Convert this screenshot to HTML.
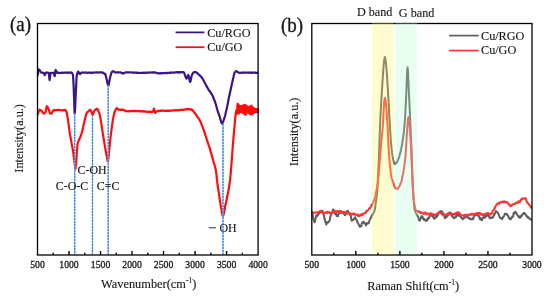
<!DOCTYPE html>
<html><head><meta charset="utf-8"><style>
html,body{margin:0;padding:0;background:#fff;}
svg{display:block;filter:blur(0.25px);}
text{font-family:"Liberation Serif",serif;fill:#161616;stroke:#161616;stroke-width:0.12px;}
.tk text{stroke-width:0.28px;}
.big text{stroke-width:0.3px;}
</style></head><body>
<svg width="550" height="299" viewBox="0 0 550 299">
<rect width="550" height="299" fill="#fff"/>
<g class="big"><text transform="translate(10.00,31.40) scale(1,1.065)" font-size="19" text-anchor="start">(a)</text></g>
<path d="M37.5,114.1 L37.9,114.2 L38.0,113.6 L38.5,111.7 L39.0,110.7 L39.5,110.2 L39.6,109.7 L40.0,110.1 L40.5,110.2 L41.0,110.4 L41.5,110.9 L41.6,110.7 L42.0,111.3 L42.5,112.2 L43.0,112.8 L43.5,113.3 L44.0,113.4 L44.5,113.3 L45.0,112.5 L45.5,112.1 L45.6,111.7 L46.0,110.0 L46.5,107.2 L46.9,106.2 L47.0,106.4 L47.5,106.7 L48.0,108.1 L48.5,108.8 L49.0,110.1 L49.5,111.9 L50.0,113.1 L50.5,113.5 L51.0,113.6 L51.3,113.7 L51.5,113.6 L52.0,112.9 L52.5,111.7 L53.0,110.6 L53.3,110.3 L53.5,110.5 L54.0,110.2 L54.5,110.4 L55.0,110.2 L55.5,110.0 L56.0,110.1 L56.1,110.0 L56.5,110.1 L57.0,110.2 L57.5,109.9 L58.0,109.8 L58.5,110.2 L59.0,110.1 L59.5,110.1 L60.0,110.2 L60.1,110.1 L60.5,110.2 L61.0,110.1 L61.5,110.4 L62.0,110.3 L62.5,110.3 L63.0,110.5 L63.5,110.4 L64.0,109.8 L64.5,109.8 L64.9,109.9 L65.0,110.1 L65.5,110.2 L66.0,111.0 L66.5,111.9 L66.7,113.0 L67.0,113.8 L67.5,116.9 L68.0,120.4 L68.1,121.1 L68.5,123.9 L69.0,127.4 L69.5,131.2 L69.7,132.4 L70.0,134.4 L70.5,137.0 L71.0,139.7 L71.5,142.7 L72.0,145.6 L72.5,148.1 L73.0,151.0 L73.1,151.7 L73.5,154.4 L74.0,158.5 L74.5,162.1 L75.0,166.9 L75.4,168.8 L75.5,168.5 L76.0,164.2 L76.5,157.6 L77.0,150.5 L77.5,144.4 L77.6,144.0 L78.0,142.2 L78.5,141.0 L79.0,139.8 L79.5,138.8 L79.9,138.1 L80.0,137.8 L80.5,136.7 L81.0,135.0 L81.5,133.6 L82.0,131.8 L82.2,131.0 L82.5,129.9 L83.0,128.0 L83.5,125.4 L84.0,123.3 L84.5,121.2 L85.0,118.9 L85.5,117.0 L86.0,114.9 L86.5,113.6 L86.7,113.1 L87.0,112.8 L87.5,111.9 L88.0,111.7 L88.5,111.1 L89.0,110.8 L89.5,110.4 L90.0,109.9 L90.3,109.8 L90.5,110.0 L91.0,110.9 L91.5,111.9 L92.0,113.6 L92.5,114.5 L92.7,114.4 L93.0,114.3 L93.5,112.8 L94.0,111.7 L94.5,110.5 L95.0,110.0 L95.5,109.7 L96.0,109.2 L96.5,109.0 L96.9,108.7 L97.0,108.8 L97.5,109.1 L98.0,110.0 L98.5,111.3 L99.0,112.4 L99.2,113.0 L99.5,113.7 L100.0,116.0 L100.5,118.7 L100.9,121.1 L101.0,121.6 L101.5,124.7 L102.0,128.1 L102.5,131.4 L102.7,132.7 L103.0,134.8 L103.5,137.6 L104.0,140.8 L104.5,144.1 L104.8,145.6 L105.0,146.9 L105.5,149.6 L106.0,152.8 L106.5,154.8 L106.7,155.9 L107.0,157.6 L107.5,160.6 L107.9,161.4 L108.0,161.1 L108.5,157.8 L109.0,152.3 L109.5,146.8 L110.0,142.2 L110.5,137.6 L111.0,133.4 L111.4,130.4 L111.5,129.7 L112.0,125.9 L112.5,122.3 L113.0,118.8 L113.3,117.5 L113.5,116.4 L114.0,114.2 L114.5,112.4 L114.9,111.1 L115.0,110.8 L115.5,110.0 L116.0,109.0 L116.5,108.5 L117.0,108.2 L117.5,108.9 L118.0,109.2 L118.5,109.6 L119.0,109.5 L119.5,109.7 L119.8,109.7 L120.0,109.9 L120.5,109.6 L121.0,109.8 L121.5,109.7 L122.0,109.8 L122.5,109.6 L123.0,109.9 L123.1,109.7 L123.5,109.8 L124.0,110.1 L124.5,110.5 L125.0,110.3 L125.5,111.0 L126.0,111.1 L126.4,111.1 L126.5,111.3 L127.0,111.1 L127.5,111.3 L128.0,111.0 L128.5,111.0 L129.0,111.3 L129.5,111.4 L130.0,111.2 L130.5,111.2 L131.0,111.0 L131.5,110.9 L132.0,111.1 L132.5,111.3 L133.0,110.8 L133.5,111.0 L134.0,110.8 L134.5,111.1 L135.0,111.2 L135.5,110.9 L136.0,111.1 L136.5,111.3 L137.0,111.1 L137.5,111.0 L138.0,111.0 L138.5,110.9 L139.0,111.3 L139.5,111.1 L140.0,111.4 L140.5,111.4 L141.0,111.2 L141.5,111.3 L142.0,111.5 L142.5,111.4 L142.7,111.4 L143.0,111.2 L143.5,111.6 L144.0,111.3 L144.5,111.2 L145.0,111.5 L145.5,111.7 L146.0,111.9 L146.5,111.6 L147.0,111.5 L147.5,112.1 L148.0,111.8 L148.5,111.8 L149.0,111.7 L149.5,111.7 L150.0,112.1 L150.5,111.9 L150.9,111.8 L151.0,111.8 L151.5,112.1 L152.0,111.7 L152.5,111.8 L153.0,111.6 L153.2,111.5 L153.5,110.1 L153.9,108.6 L154.0,108.8 L154.5,110.3 L155.0,112.3 L155.3,112.8 L155.5,112.9 L156.0,112.1 L156.5,111.5 L157.0,111.3 L157.5,110.9 L158.0,111.1 L158.5,110.9 L159.0,110.8 L159.1,110.8 L159.5,110.9 L160.0,110.8 L160.5,110.7 L161.0,111.0 L161.5,110.7 L162.0,110.7 L162.5,110.6 L163.0,110.8 L163.5,110.6 L164.0,110.7 L164.5,110.9 L165.0,110.8 L165.5,111.0 L166.0,110.8 L166.5,110.7 L167.0,110.8 L167.3,110.7 L167.5,110.9 L168.0,110.8 L168.5,110.7 L169.0,110.9 L169.5,110.8 L170.0,110.6 L170.5,110.5 L171.0,110.7 L171.5,110.6 L172.0,110.6 L172.5,110.5 L173.0,110.4 L173.5,110.4 L174.0,110.4 L174.5,110.3 L175.0,110.3 L175.5,110.2 L176.0,110.3 L176.5,110.3 L177.0,110.1 L177.5,110.3 L178.0,110.3 L178.5,110.3 L179.0,110.1 L179.5,110.1 L180.0,109.9 L180.5,110.1 L181.0,109.7 L181.5,109.9 L182.0,109.9 L182.5,110.0 L183.0,109.9 L183.5,109.7 L183.6,109.6 L184.0,109.6 L184.5,109.7 L185.0,109.6 L185.5,109.4 L186.0,109.2 L186.5,109.2 L187.0,109.3 L187.5,108.9 L187.7,109.1 L188.0,109.3 L188.5,109.2 L189.0,109.1 L189.5,109.4 L190.0,109.2 L190.5,109.4 L191.0,109.8 L191.5,110.0 L191.8,109.5 L192.0,110.0 L192.5,110.5 L193.0,110.6 L193.5,111.4 L194.0,112.2 L194.5,112.6 L195.0,113.4 L195.1,113.5 L195.5,113.7 L196.0,114.7 L196.5,115.2 L197.0,116.1 L197.5,116.9 L198.0,117.5 L198.5,118.1 L199.0,119.0 L199.2,119.3 L199.5,120.0 L200.0,120.6 L200.5,121.7 L201.0,122.7 L201.5,124.3 L202.0,125.5 L202.5,126.7 L203.0,128.0 L203.2,128.5 L203.5,129.3 L204.0,130.7 L204.5,132.2 L205.0,134.0 L205.5,135.3 L206.0,136.7 L206.5,138.3 L207.0,140.1 L207.3,141.0 L207.5,141.6 L208.0,143.2 L208.5,144.9 L209.0,146.0 L209.5,147.7 L210.0,149.2 L210.5,151.2 L211.0,152.7 L211.5,154.4 L212.0,156.2 L212.5,158.2 L213.0,159.8 L213.4,161.2 L213.5,161.8 L214.0,163.1 L214.5,164.7 L215.0,166.9 L215.5,168.5 L215.8,169.9 L216.0,171.1 L216.5,175.1 L217.0,179.8 L217.5,184.0 L218.0,187.6 L218.5,191.0 L219.0,194.2 L219.5,197.7 L219.8,199.8 L220.0,201.1 L220.5,204.1 L221.0,207.4 L221.5,209.9 L222.0,212.8 L222.5,215.1 L222.9,216.1 L223.0,216.1 L223.5,214.7 L224.0,212.4 L224.5,209.8 L224.8,208.2 L225.0,207.1 L225.5,204.8 L226.0,202.6 L226.5,200.3 L227.0,198.0 L227.4,196.1 L227.5,195.5 L228.0,192.9 L228.5,190.2 L229.0,187.3 L229.5,184.0 L230.0,180.7 L230.5,175.8 L231.0,169.8 L231.4,164.9 L231.5,163.7 L232.0,156.8 L232.5,149.9 L232.8,145.9 L233.0,143.4 L233.5,137.5 L234.0,131.9 L234.5,126.5 L234.7,124.4 L235.0,121.0 L235.5,115.4 L236.0,112.0 L236.5,110.2 L237.0,113.8 L237.5,103.9 L238.0,113.1 L238.5,104.5 L239.0,113.5 L239.5,105.7 L240.0,112.2 L240.5,106.1 L241.0,111.9 L241.5,106.7 L242.0,112.5 L242.5,105.6 L243.0,112.8 L243.5,105.5 L244.0,113.3 L244.5,104.8 L245.0,114.7 L245.5,105.2 L246.0,114.5 L246.5,106.1 L247.0,112.6 L247.5,106.6 L248.0,112.1 L248.5,107.4 L249.0,113.2 L249.5,106.6 L250.0,114.1 L250.5,106.5 L251.0,114.2 L251.5,105.5 L252.0,114.3 L252.5,107.0 L253.0,113.4 L253.5,108.0 L254.0,112.8 L254.5,108.6 L255.0,112.3 L255.5,109.2 L256.0,111.8 L256.5,109.1 L257.0,112.4 L257.5,109.3 L258.0,112.8" fill="none" stroke="#ff0d0d" stroke-width="2.2" stroke-linejoin="round"/>
<path d="M37.5,74.6 L37.9,74.6 L38.0,72.9 L38.3,69.4 L38.5,69.4 L39.0,69.6 L39.5,69.9 L39.6,70.0 L40.0,70.6 L40.5,71.8 L40.8,72.2 L41.0,72.3 L41.5,72.5 L42.0,72.6 L42.5,72.7 L43.0,72.8 L43.5,72.9 L44.0,73.2 L44.5,74.6 L44.8,75.2 L45.0,74.9 L45.5,73.2 L45.8,72.6 L46.0,72.6 L46.5,72.6 L47.0,72.6 L47.5,72.7 L48.0,72.7 L48.5,72.8 L48.7,72.8 L49.0,74.7 L49.5,79.9 L49.6,80.2 L50.0,77.2 L50.5,73.0 L51.0,72.9 L51.5,72.9 L52.0,72.8 L52.5,72.8 L53.0,72.8 L53.5,72.8 L53.6,72.8 L54.0,73.8 L54.5,75.8 L54.7,76.1 L55.0,74.5 L55.5,70.2 L55.6,70.0 L56.0,70.5 L56.5,71.6 L57.0,72.4 L57.5,72.9 L58.0,72.9 L58.5,72.9 L59.0,72.9 L59.5,72.9 L60.0,72.9 L60.5,72.9 L61.0,72.9 L61.5,73.0 L62.0,72.8 L62.5,72.6 L63.0,72.8 L63.5,73.0 L64.0,72.8 L64.5,72.7 L65.0,72.6 L65.5,72.6 L66.0,72.7 L66.5,72.6 L67.0,72.8 L67.5,72.6 L68.0,72.6 L68.5,72.8 L69.0,72.7 L69.5,72.5 L70.0,72.6 L70.5,72.6 L71.0,72.5 L71.2,72.3 L71.5,72.6 L72.0,73.1 L72.5,73.9 L73.0,75.0 L73.5,83.4 L73.8,90.6 L74.0,96.2 L74.5,111.4 L74.7,113.6 L75.0,110.9 L75.5,99.9 L75.9,90.8 L76.0,88.8 L76.5,78.5 L76.8,75.0 L77.0,74.2 L77.5,72.8 L78.0,71.8 L78.2,71.6 L78.5,71.8 L79.0,72.7 L79.5,73.9 L79.9,74.2 L80.0,74.0 L80.5,73.8 L81.0,73.0 L81.5,72.7 L81.7,72.5 L82.0,72.7 L82.5,72.5 L83.0,72.5 L83.5,72.6 L84.0,72.7 L84.5,72.6 L85.0,72.4 L85.5,72.6 L86.0,72.6 L86.5,72.6 L87.0,72.6 L87.5,72.9 L88.0,72.6 L88.5,72.6 L89.0,72.8 L89.5,72.7 L90.0,72.7 L90.5,72.8 L91.0,72.8 L91.5,72.7 L92.0,72.8 L92.5,72.7 L93.0,72.6 L93.5,72.6 L94.0,72.6 L94.5,72.6 L95.0,72.5 L95.5,72.4 L96.0,72.6 L96.5,72.4 L97.0,72.3 L97.5,72.6 L98.0,72.4 L98.5,72.6 L99.0,72.5 L99.5,72.4 L100.0,72.4 L100.5,72.4 L100.8,72.5 L101.0,72.4 L101.5,72.5 L102.0,72.4 L102.5,72.7 L103.0,72.7 L103.5,73.1 L104.0,73.5 L104.5,73.8 L105.0,74.3 L105.2,74.0 L105.5,74.8 L106.0,76.6 L106.5,78.8 L106.9,80.2 L107.0,80.7 L107.5,83.3 L108.0,84.9 L108.3,85.6 L108.5,85.4 L109.0,83.2 L109.5,80.5 L109.9,78.4 L110.0,78.0 L110.5,75.9 L111.0,74.1 L111.5,72.7 L111.6,72.6 L112.0,71.8 L112.5,71.4 L113.0,71.3 L113.5,71.4 L114.0,71.4 L114.5,72.0 L115.0,72.2 L115.5,72.5 L115.7,72.5 L116.0,72.6 L116.5,72.5 L117.0,72.3 L117.5,72.3 L118.0,72.5 L118.5,72.4 L119.0,72.5 L119.5,72.4 L119.8,72.3 L120.0,72.5 L120.5,72.4 L121.0,72.5 L121.5,73.2 L122.0,72.9 L122.5,73.4 L123.0,73.5 L123.1,73.4 L123.5,73.2 L124.0,73.3 L124.5,72.8 L125.0,72.6 L125.5,72.5 L126.0,72.5 L126.4,72.4 L126.5,72.5 L127.0,72.3 L127.5,72.4 L128.0,72.3 L128.5,72.4 L129.0,72.5 L129.5,72.4 L130.0,72.5 L130.5,72.4 L131.0,72.4 L131.5,72.5 L132.0,72.5 L132.5,72.6 L133.0,72.6 L133.5,72.8 L134.0,72.6 L134.5,72.6 L135.0,72.5 L135.5,72.7 L136.0,72.8 L136.5,72.6 L137.0,72.8 L137.5,72.9 L138.0,72.8 L138.5,72.8 L139.0,73.0 L139.5,72.9 L140.0,72.9 L140.5,73.0 L141.0,73.0 L141.5,72.9 L142.0,72.8 L142.5,72.9 L142.7,72.9 L143.0,72.7 L143.5,73.0 L144.0,72.9 L144.5,73.0 L145.0,72.7 L145.5,73.0 L146.0,72.7 L146.5,72.8 L147.0,72.6 L147.5,72.7 L148.0,72.7 L148.5,72.6 L149.0,72.7 L149.5,72.6 L150.0,72.7 L150.5,72.5 L151.0,72.4 L151.5,72.5 L152.0,72.5 L152.5,72.6 L153.0,72.5 L153.5,72.2 L154.0,72.4 L154.2,72.6 L154.5,72.4 L155.0,72.4 L155.5,72.6 L156.0,72.6 L156.5,72.9 L157.0,73.0 L157.5,73.3 L158.0,73.3 L158.5,73.3 L159.0,73.5 L159.1,73.5 L159.5,73.3 L160.0,73.3 L160.5,73.1 L161.0,73.5 L161.5,73.3 L162.0,73.0 L162.5,73.0 L163.0,73.2 L163.5,73.3 L164.0,73.1 L164.5,73.2 L165.0,72.9 L165.5,72.9 L166.0,73.1 L166.5,73.0 L167.0,72.9 L167.3,73.1 L167.5,72.8 L168.0,72.8 L168.5,73.0 L169.0,73.0 L169.5,72.8 L170.0,73.0 L170.5,72.7 L171.0,72.7 L171.5,72.6 L172.0,72.4 L172.5,72.6 L173.0,72.7 L173.5,72.5 L174.0,72.5 L174.5,72.7 L175.0,72.3 L175.5,72.3 L176.0,72.3 L176.5,72.2 L177.0,72.5 L177.5,72.4 L178.0,72.2 L178.5,72.2 L179.0,72.6 L179.5,72.2 L180.0,72.2 L180.5,72.3 L181.0,72.3 L181.5,72.2 L182.0,72.1 L182.5,72.1 L183.0,72.2 L183.5,72.2 L183.6,72.2 L184.0,72.6 L184.5,73.9 L185.0,75.4 L185.3,76.1 L185.5,76.6 L186.0,77.8 L186.5,78.6 L186.6,78.6 L187.0,78.0 L187.5,76.5 L188.0,75.2 L188.2,75.0 L188.5,75.4 L189.0,77.4 L189.5,80.0 L190.0,81.7 L190.2,81.9 L190.5,81.4 L191.0,79.0 L191.5,76.3 L191.8,75.3 L192.0,74.9 L192.5,74.0 L193.0,73.1 L193.5,72.5 L194.0,72.2 L194.3,72.1 L194.5,72.1 L195.0,72.1 L195.5,72.1 L196.0,72.2 L196.5,72.5 L197.0,72.9 L197.5,73.4 L198.0,73.8 L198.2,74.0 L198.5,74.2 L199.0,74.7 L199.5,75.1 L200.0,75.6 L200.5,76.1 L201.0,76.7 L201.5,77.3 L201.6,77.4 L202.0,77.9 L202.5,78.7 L203.0,79.5 L203.5,80.4 L204.0,81.3 L204.5,82.2 L205.0,83.1 L205.5,84.0 L206.0,85.0 L206.5,85.9 L207.0,86.9 L207.5,87.8 L208.0,88.7 L208.4,89.4 L208.5,89.6 L209.0,90.3 L209.5,91.0 L210.0,91.7 L210.5,92.4 L211.0,93.1 L211.5,93.9 L211.8,94.4 L212.0,94.8 L212.5,95.8 L213.0,96.8 L213.5,98.0 L214.0,99.2 L214.5,100.5 L215.0,101.8 L215.2,102.4 L215.5,103.3 L216.0,105.0 L216.5,106.8 L217.0,108.6 L217.5,110.3 L218.0,111.8 L218.5,113.3 L219.0,114.8 L219.5,116.2 L219.8,117.1 L220.0,117.7 L220.5,119.6 L221.0,121.5 L221.5,122.9 L222.0,123.5 L222.5,123.1 L223.0,122.1 L223.5,120.7 L224.0,119.2 L224.3,118.3 L224.5,117.7 L225.0,116.0 L225.5,114.0 L226.0,111.8 L226.5,109.6 L226.6,109.2 L227.0,107.4 L227.5,104.9 L228.0,102.3 L228.5,99.8 L228.9,97.8 L229.0,97.3 L229.5,95.0 L230.0,92.6 L230.5,90.3 L231.0,88.1 L231.1,87.6 L231.5,85.8 L232.0,83.5 L232.5,81.3 L233.0,79.1 L233.4,77.4 L233.5,77.0 L234.0,74.5 L234.5,72.8 L235.0,72.1 L235.5,71.6 L236.0,71.3 L236.4,71.2 L236.5,71.2 L237.0,71.4 L237.5,71.8 L238.0,72.2 L238.5,72.6 L239.0,72.8 L239.1,72.8 L239.5,72.8 L240.0,72.8 L240.5,72.8 L241.0,72.8 L241.5,72.7 L242.0,72.5 L242.5,72.6 L243.0,72.7 L243.5,72.8 L244.0,72.6 L244.5,72.5 L245.0,72.6 L245.5,72.6 L246.0,72.7 L246.5,72.6 L247.0,72.5 L247.5,72.6 L248.0,72.5 L248.5,72.7 L249.0,72.8 L249.5,72.5 L250.0,72.7 L250.5,72.5 L251.0,72.8 L251.5,72.8 L252.0,72.6 L252.5,72.8 L253.0,72.6 L253.5,72.6 L254.0,72.6 L254.5,72.7 L255.0,72.7 L255.5,72.8 L256.0,72.7 L256.5,72.9 L257.0,73.0 L257.5,72.8 L258.0,72.7" fill="none" stroke="#3b1486" stroke-width="2.2" stroke-linejoin="round"/>
<g fill="none" stroke-width="1.25"><line x1="74.7" y1="113" x2="74.7" y2="254.5" stroke="#94c0f0"/><line x1="74.7" y1="113" x2="74.7" y2="254.5" stroke="#3383dc" stroke-dasharray="2,1"/><line x1="92.5" y1="115" x2="92.5" y2="254.5" stroke="#94c0f0"/><line x1="92.5" y1="115" x2="92.5" y2="254.5" stroke="#3383dc" stroke-dasharray="2,1"/><line x1="108.2" y1="85" x2="108.2" y2="254.5" stroke="#94c0f0"/><line x1="108.2" y1="85" x2="108.2" y2="254.5" stroke="#3383dc" stroke-dasharray="2,1"/><line x1="223" y1="124" x2="223" y2="254.5" stroke="#94c0f0"/><line x1="223" y1="124" x2="223" y2="254.5" stroke="#3383dc" stroke-dasharray="2,1"/></g>
<rect x="37.5" y="23.5" width="220.60" height="231.50" fill="none" stroke="#000" stroke-width="1.3"/>
<g stroke="#000" stroke-width="1.4"><line x1="53.26" y1="255.0" x2="53.26" y2="252.8"/><line x1="69.01" y1="255.0" x2="69.01" y2="251.0"/><line x1="84.77" y1="255.0" x2="84.77" y2="252.8"/><line x1="100.53" y1="255.0" x2="100.53" y2="251.0"/><line x1="116.29" y1="255.0" x2="116.29" y2="252.8"/><line x1="132.04" y1="255.0" x2="132.04" y2="251.0"/><line x1="147.80" y1="255.0" x2="147.80" y2="252.8"/><line x1="163.56" y1="255.0" x2="163.56" y2="251.0"/><line x1="179.31" y1="255.0" x2="179.31" y2="252.8"/><line x1="195.07" y1="255.0" x2="195.07" y2="251.0"/><line x1="210.83" y1="255.0" x2="210.83" y2="252.8"/><line x1="226.59" y1="255.0" x2="226.59" y2="251.0"/><line x1="242.34" y1="255.0" x2="242.34" y2="252.8"/></g>
<g class="tk">
<text transform="translate(37.50,267.90) scale(1,1.065)" font-size="9.7" text-anchor="middle">500</text><text transform="translate(69.01,267.90) scale(1,1.065)" font-size="9.7" text-anchor="middle">1000</text><text transform="translate(100.53,267.90) scale(1,1.065)" font-size="9.7" text-anchor="middle">1500</text><text transform="translate(132.04,267.90) scale(1,1.065)" font-size="9.7" text-anchor="middle">2000</text><text transform="translate(163.56,267.90) scale(1,1.065)" font-size="9.7" text-anchor="middle">2500</text><text transform="translate(195.07,267.90) scale(1,1.065)" font-size="9.7" text-anchor="middle">3000</text><text transform="translate(226.59,267.90) scale(1,1.065)" font-size="9.7" text-anchor="middle">3500</text><text transform="translate(258.10,267.90) scale(1,1.065)" font-size="9.7" text-anchor="middle">4000</text>
</g>
<line x1="175.6" y1="32.4" x2="204.4" y2="32.4" stroke="#3b1486" stroke-width="1.75"/>
<line x1="175.6" y1="47.2" x2="204.4" y2="47.2" stroke="#ff0d0d" stroke-width="1.75"/>
<text transform="translate(207.20,36.70) scale(1,1.065)" font-size="12.2" text-anchor="start">Cu/RGO</text>
<text transform="translate(207.20,51.00) scale(1,1.065)" font-size="12.2" text-anchor="start">Cu/GO</text>
<text transform="translate(77.60,174.10) scale(1,1.065)" font-size="11.9" text-anchor="start">C-OH</text>
<text transform="translate(55.80,190.40) scale(1,1.065)" font-size="11.9" text-anchor="start">C-O-C</text>
<text transform="translate(96.80,190.40) scale(1,1.065)" font-size="11.9" text-anchor="start">C=C</text>
<rect x="208.8" y="227.1" width="7.2" height="1.25" fill="#555"/><text transform="translate(219.40,231.80) scale(1,1.065)" font-size="11.9" text-anchor="start">OH</text>
<text transform="translate(23.00,138.40) scale(1,1.065) rotate(-90)" font-size="11.5" text-anchor="middle">Intensity(a.u.)</text>
<text transform="translate(101.00,288.20) scale(1,1.065)" font-size="12.4" text-anchor="start">Wavenumber(cm<tspan font-size="7.6" dy="-4.6">-1</tspan><tspan dy="4.6">)</tspan></text>

<g class="big"><text transform="translate(281.00,32.30) scale(1,1.065)" font-size="19" text-anchor="start">(b)</text></g>
<text transform="translate(356.90,16.00) scale(1,1.065)" font-size="12.2" text-anchor="start">D band</text>
<text transform="translate(398.80,16.50) scale(1,1.065)" font-size="12.2" text-anchor="start">G band</text>
<path d="M312.0,211.0 L312.4,213.9 L312.8,215.9 L313.2,217.9 L313.6,220.1 L314.0,220.5 L314.4,221.9 L314.8,222.3 L315.2,220.2 L315.6,218.4 L316.0,216.6 L316.4,215.4 L316.8,216.4 L317.2,215.4 L317.6,215.7 L318.0,214.4 L318.4,214.2 L318.8,213.9 L319.2,213.6 L319.6,212.9 L320.0,212.5 L320.4,210.9 L320.8,211.2 L321.2,211.3 L321.6,211.6 L322.0,210.6 L322.4,212.5 L322.8,211.4 L323.2,212.6 L323.6,214.7 L324.0,215.7 L324.4,218.6 L324.8,218.4 L325.2,221.5 L325.6,222.0 L326.0,223.3 L326.4,224.6 L326.8,222.1 L327.2,222.4 L327.6,222.7 L328.0,222.6 L328.4,222.5 L328.8,221.8 L329.2,221.3 L329.6,220.6 L330.0,218.5 L330.4,216.7 L330.8,215.1 L331.2,214.3 L331.6,213.2 L332.0,212.7 L332.4,212.1 L332.8,209.6 L333.2,210.5 L333.6,209.9 L334.0,210.6 L334.4,213.1 L334.8,212.4 L335.2,213.2 L335.6,214.5 L336.0,214.4 L336.4,214.0 L336.8,216.1 L337.2,215.6 L337.6,215.8 L338.0,216.2 L338.4,214.3 L338.8,214.0 L339.2,212.9 L339.6,212.5 L340.0,212.5 L340.4,211.1 L340.8,212.9 L341.2,212.4 L341.6,212.2 L342.0,212.5 L342.4,212.9 L342.8,212.9 L343.2,212.5 L343.6,213.7 L344.0,214.0 L344.4,214.3 L344.8,215.0 L345.2,215.2 L345.6,214.4 L346.0,213.4 L346.4,212.7 L346.8,211.5 L347.2,210.8 L347.6,211.2 L348.0,211.1 L348.4,212.1 L348.8,212.3 L349.2,213.2 L349.6,213.8 L350.0,213.6 L350.4,215.3 L350.8,215.5 L351.2,218.3 L351.6,220.7 L352.0,220.5 L352.4,220.5 L352.8,219.8 L353.2,219.9 L353.6,219.7 L354.0,219.2 L354.4,218.0 L354.8,217.9 L355.2,217.2 L355.6,218.3 L356.0,219.2 L356.4,219.6 L356.8,220.1 L357.2,221.4 L357.6,222.8 L358.0,222.8 L358.4,223.9 L358.8,224.8 L359.2,225.4 L359.6,226.6 L360.0,226.1 L360.4,226.6 L360.8,226.1 L361.2,226.4 L361.6,224.0 L362.0,223.0 L362.4,222.2 L362.8,222.8 L363.2,221.8 L363.6,221.8 L364.0,222.5 L364.4,223.5 L364.8,223.4 L365.2,223.8 L365.6,223.9 L366.0,225.4 L366.4,223.0 L366.8,223.1 L367.2,223.4 L367.6,223.8 L368.0,223.3 L368.4,222.7 L368.8,223.1 L369.2,221.4 L369.6,220.5 L370.0,219.5 L370.4,218.5 L370.8,217.4 L371.2,217.6 L371.6,216.5 L372.0,215.0 L372.4,214.6 L372.8,214.5 L373.2,213.5 L373.6,212.9 L374.0,212.2 L374.4,211.2 L374.8,209.5 L375.2,207.1 L375.6,204.4 L376.0,201.6 L376.4,198.7 L376.8,195.3 L377.2,191.2 L377.6,185.7 L378.0,178.1 L378.4,169.3 L378.8,160.0 L379.2,149.5 L379.6,137.8 L380.0,126.7 L380.4,117.8 L380.8,109.9 L381.2,102.7 L381.6,96.0 L382.0,89.6 L382.4,83.5 L382.8,77.2 L383.2,71.1 L383.6,65.9 L384.0,62.0 L384.4,59.0 L384.8,57.1 L385.2,57.8 L385.6,60.5 L386.0,63.7 L386.4,68.0 L386.8,73.2 L387.2,79.0 L387.6,85.0 L388.0,91.4 L388.4,98.5 L388.8,105.9 L389.2,113.3 L389.6,120.3 L390.0,127.0 L390.4,133.8 L390.8,140.0 L391.2,145.0 L391.6,149.0 L392.0,152.7 L392.4,155.7 L392.8,158.1 L393.2,159.8 L393.6,161.2 L394.0,162.5 L394.4,163.4 L394.8,163.9 L395.2,164.0 L395.6,163.7 L396.0,163.4 L396.4,162.8 L396.8,162.2 L397.2,161.5 L397.6,160.8 L398.0,160.0 L398.4,159.0 L398.8,157.9 L399.2,156.7 L399.6,155.3 L400.0,153.9 L400.4,152.4 L400.8,150.8 L401.2,149.0 L401.6,146.9 L402.0,144.7 L402.4,142.3 L402.8,139.7 L403.2,136.9 L403.6,133.9 L404.0,130.5 L404.4,126.6 L404.8,122.0 L405.2,115.8 L405.6,107.8 L406.0,99.2 L406.4,90.3 L406.8,79.1 L407.2,69.7 L407.6,67.2 L408.0,72.3 L408.4,81.1 L408.8,90.0 L409.2,98.2 L409.6,106.9 L410.0,116.0 L410.4,125.0 L410.8,133.7 L411.2,142.7 L411.6,152.7 L412.0,165.4 L412.4,177.6 L412.8,186.4 L413.2,193.6 L413.6,199.3 L414.0,204.3 L414.4,208.2 L414.8,210.4 L415.2,211.5 L415.6,212.2 L416.0,213.1 L416.4,213.9 L416.8,214.8 L417.2,215.2 L417.6,216.4 L418.0,216.1 L418.4,217.8 L418.8,219.0 L419.2,220.5 L419.6,219.6 L420.0,220.5 L420.4,219.1 L420.8,217.7 L421.2,217.2 L421.6,216.1 L422.0,217.1 L422.4,216.6 L422.8,218.3 L423.2,218.7 L423.6,218.4 L424.0,219.9 L424.4,219.5 L424.8,219.7 L425.2,220.0 L425.6,220.8 L426.0,220.8 L426.4,219.8 L426.8,219.2 L427.2,220.6 L427.6,219.2 L428.0,219.2 L428.4,217.8 L428.8,217.5 L429.2,218.0 L429.6,215.6 L430.0,215.9 L430.4,215.3 L430.8,213.3 L431.2,215.6 L431.6,214.6 L432.0,215.4 L432.4,216.4 L432.8,216.3 L433.2,215.9 L433.6,217.7 L434.0,218.4 L434.4,218.6 L434.8,217.8 L435.2,218.2 L435.6,217.1 L436.0,217.4 L436.4,216.4 L436.8,215.5 L437.2,216.4 L437.6,214.7 L438.0,215.0 L438.4,213.2 L438.8,212.4 L439.2,211.9 L439.6,211.8 L440.0,211.3 L440.4,211.4 L440.8,211.2 L441.2,211.5 L441.6,211.3 L442.0,211.4 L442.4,212.5 L442.8,212.8 L443.2,213.8 L443.6,214.0 L444.0,215.0 L444.4,215.3 L444.8,217.8 L445.2,218.3 L445.6,217.6 L446.0,217.2 L446.4,216.6 L446.8,216.9 L447.2,215.9 L447.6,215.8 L448.0,214.5 L448.4,214.7 L448.8,213.3 L449.2,213.1 L449.6,212.3 L450.0,214.3 L450.4,212.7 L450.8,213.2 L451.2,214.0 L451.6,215.8 L452.0,215.3 L452.4,216.1 L452.8,217.3 L453.2,217.0 L453.6,217.7 L454.0,218.2 L454.4,218.3 L454.8,217.9 L455.2,217.4 L455.6,216.5 L456.0,217.1 L456.4,214.1 L456.8,215.1 L457.2,213.9 L457.6,214.1 L458.0,215.8 L458.4,215.3 L458.8,214.5 L459.2,215.3 L459.6,215.3 L460.0,216.2 L460.4,216.4 L460.8,217.3 L461.2,217.1 L461.6,217.7 L462.0,218.4 L462.4,218.5 L462.8,219.3 L463.2,218.2 L463.6,218.6 L464.0,217.6 L464.4,217.6 L464.8,216.7 L465.2,216.6 L465.6,217.7 L466.0,215.4 L466.4,216.4 L466.8,215.8 L467.2,216.5 L467.6,216.2 L468.0,217.2 L468.4,218.0 L468.8,218.0 L469.2,218.1 L469.6,219.1 L470.0,218.5 L470.4,218.4 L470.8,219.0 L471.2,219.4 L471.6,219.4 L472.0,219.0 L472.4,219.3 L472.8,218.0 L473.2,219.1 L473.6,217.4 L474.0,215.6 L474.4,215.7 L474.8,214.1 L475.2,215.4 L475.6,214.2 L476.0,213.9 L476.4,214.7 L476.8,214.1 L477.2,215.2 L477.6,214.7 L478.0,215.7 L478.4,216.0 L478.8,215.8 L479.2,217.2 L479.6,218.0 L480.0,219.1 L480.4,218.0 L480.8,219.8 L481.2,219.7 L481.6,219.1 L482.0,220.3 L482.4,218.5 L482.8,218.2 L483.2,217.3 L483.6,217.9 L484.0,217.8 L484.4,216.9 L484.8,216.1 L485.2,217.5 L485.6,215.9 L486.0,216.7 L486.4,215.8 L486.8,215.7 L487.2,215.2 L487.6,214.1 L488.0,215.1 L488.4,215.8 L488.8,216.3 L489.2,216.1 L489.6,218.2 L490.0,217.8 L490.4,218.1 L490.8,217.9 L491.2,217.6 L491.6,217.9 L492.0,218.1 L492.4,217.4 L492.8,217.1 L493.2,217.1 L493.6,215.9 L494.0,213.9 L494.4,214.8 L494.8,213.9 L495.2,212.5 L495.6,211.9 L496.0,211.1 L496.4,211.7 L496.8,212.0 L497.2,211.9 L497.6,212.7 L498.0,213.2 L498.4,214.0 L498.8,214.6 L499.2,215.6 L499.6,217.4 L500.0,217.9 L500.4,217.9 L500.8,217.8 L501.2,218.2 L501.6,218.7 L502.0,219.3 L502.4,218.7 L502.8,217.8 L503.2,216.7 L503.6,216.4 L504.0,216.3 L504.4,215.1 L504.8,213.7 L505.2,213.7 L505.6,214.1 L506.0,214.1 L506.4,214.0 L506.8,213.8 L507.2,215.3 L507.6,215.1 L508.0,215.9 L508.4,216.1 L508.8,218.0 L509.2,218.5 L509.6,218.6 L510.0,219.2 L510.4,218.2 L510.8,219.3 L511.2,217.8 L511.6,218.0 L512.0,217.3 L512.4,216.3 L512.8,216.5 L513.2,216.5 L513.6,213.0 L514.0,213.7 L514.4,213.5 L514.8,212.4 L515.2,212.8 L515.6,211.8 L516.0,212.4 L516.4,213.8 L516.8,214.3 L517.2,214.3 L517.6,215.5 L518.0,216.0 L518.4,216.4 L518.8,217.5 L519.2,217.2 L519.6,216.3 L520.0,217.8 L520.4,216.2 L520.8,216.8 L521.2,215.7 L521.6,215.4 L522.0,215.8 L522.4,214.2 L522.8,214.2 L523.2,213.8 L523.6,213.1 L524.0,213.8 L524.4,212.9 L524.8,213.9 L525.2,213.6 L525.6,214.8 L526.0,215.0 L526.4,216.2 L526.8,216.2 L527.2,216.3 L527.6,217.0 L528.0,217.9 L528.4,217.2 L528.8,217.8 L529.2,218.3 L529.6,218.7 L530.0,218.8 L530.4,218.8 L530.8,219.7 L531.2,219.8 L531.6,219.9" fill="none" stroke="#5e5e5e" stroke-width="2" stroke-linejoin="round"/>
<path d="M312.0,212.9 L312.4,213.3 L312.8,213.1 L313.2,213.1 L313.6,213.1 L314.0,212.7 L314.4,212.7 L314.8,212.4 L315.2,212.5 L315.6,212.3 L316.0,212.8 L316.4,212.2 L316.8,212.2 L317.2,212.6 L317.6,212.3 L318.0,212.1 L318.4,212.0 L318.8,211.5 L319.2,212.5 L319.6,212.1 L320.0,211.6 L320.4,211.4 L320.8,211.9 L321.2,211.6 L321.6,212.3 L322.0,212.6 L322.4,212.6 L322.8,212.9 L323.2,213.6 L323.6,212.8 L324.0,213.1 L324.4,213.2 L324.8,212.8 L325.2,212.6 L325.6,212.6 L326.0,212.3 L326.4,212.7 L326.8,212.1 L327.2,211.7 L327.6,213.1 L328.0,211.9 L328.4,212.5 L328.8,212.5 L329.2,212.4 L329.6,212.1 L330.0,213.3 L330.4,213.4 L330.8,213.3 L331.2,213.1 L331.6,213.7 L332.0,212.5 L332.4,212.9 L332.8,212.7 L333.2,212.0 L333.6,211.5 L334.0,211.4 L334.4,211.3 L334.8,211.3 L335.2,211.6 L335.6,211.1 L336.0,212.0 L336.4,211.4 L336.8,212.0 L337.2,211.8 L337.6,211.1 L338.0,211.5 L338.4,211.3 L338.8,211.9 L339.2,212.1 L339.6,210.9 L340.0,211.8 L340.4,211.6 L340.8,212.4 L341.2,211.0 L341.6,212.1 L342.0,212.0 L342.4,211.9 L342.8,211.9 L343.2,212.7 L343.6,212.0 L344.0,212.4 L344.4,212.1 L344.8,212.9 L345.2,212.0 L345.6,212.1 L346.0,212.8 L346.4,212.7 L346.8,212.9 L347.2,212.9 L347.6,213.6 L348.0,212.9 L348.4,212.8 L348.8,213.0 L349.2,213.4 L349.6,214.1 L350.0,213.3 L350.4,213.8 L350.8,213.8 L351.2,214.1 L351.6,214.1 L352.0,214.0 L352.4,213.6 L352.8,213.7 L353.2,213.8 L353.6,214.4 L354.0,213.5 L354.4,213.6 L354.8,213.8 L355.2,214.6 L355.6,214.4 L356.0,214.8 L356.4,215.0 L356.8,214.7 L357.2,214.9 L357.6,214.4 L358.0,215.9 L358.4,215.4 L358.8,216.1 L359.2,215.2 L359.6,216.1 L360.0,215.8 L360.4,215.1 L360.8,215.3 L361.2,214.4 L361.6,215.1 L362.0,214.1 L362.4,214.3 L362.8,214.9 L363.2,213.7 L363.6,213.7 L364.0,213.2 L364.4,213.5 L364.8,213.2 L365.2,213.0 L365.6,212.0 L366.0,212.7 L366.4,211.0 L366.8,211.1 L367.2,211.0 L367.6,210.3 L368.0,210.1 L368.4,209.6 L368.8,209.2 L369.2,208.2 L369.6,208.7 L370.0,208.0 L370.4,207.3 L370.8,206.8 L371.2,206.1 L371.6,204.9 L372.0,205.1 L372.4,203.8 L372.8,203.3 L373.2,202.7 L373.6,201.1 L374.0,199.9 L374.4,199.2 L374.8,198.0 L375.2,196.4 L375.6,195.2 L376.0,193.0 L376.4,190.6 L376.8,189.3 L377.2,185.9 L377.6,184.0 L378.0,180.7 L378.4,176.4 L378.8,171.8 L379.2,168.2 L379.6,162.8 L380.0,158.0 L380.4,152.3 L380.8,148.0 L381.2,143.1 L381.6,138.7 L382.0,135.2 L382.4,131.0 L382.8,126.8 L383.2,119.7 L383.6,110.9 L384.0,104.4 L384.4,100.6 L384.8,98.1 L385.2,98.4 L385.6,100.6 L386.0,104.5 L386.4,108.4 L386.8,113.7 L387.2,119.6 L387.6,126.8 L388.0,135.4 L388.4,144.2 L388.8,151.9 L389.2,156.4 L389.6,162.0 L390.0,165.7 L390.4,169.3 L390.8,172.9 L391.2,175.2 L391.6,177.5 L392.0,179.1 L392.4,179.9 L392.8,181.5 L393.2,182.6 L393.6,183.4 L394.0,185.3 L394.4,186.2 L394.8,187.4 L395.2,187.8 L395.6,188.1 L396.0,188.3 L396.4,188.8 L396.8,188.6 L397.2,188.9 L397.6,189.0 L398.0,188.3 L398.4,187.9 L398.8,187.3 L399.2,186.6 L399.6,185.9 L400.0,185.0 L400.4,183.7 L400.8,182.9 L401.2,182.1 L401.6,181.1 L402.0,178.8 L402.4,176.3 L402.8,174.6 L403.2,173.9 L403.6,170.4 L404.0,168.5 L404.4,165.7 L404.8,162.1 L405.2,158.6 L405.6,155.3 L406.0,149.2 L406.4,141.8 L406.8,135.1 L407.2,129.5 L407.6,124.5 L408.0,119.5 L408.4,117.3 L408.8,117.8 L409.2,121.2 L409.6,125.6 L410.0,129.9 L410.4,135.9 L410.8,142.2 L411.2,149.3 L411.6,158.8 L412.0,168.5 L412.4,177.2 L412.8,186.0 L413.2,193.6 L413.6,198.3 L414.0,201.3 L414.4,204.4 L414.8,206.4 L415.2,208.3 L415.6,210.2 L416.0,210.8 L416.4,210.8 L416.8,211.0 L417.2,211.2 L417.6,211.1 L418.0,211.3 L418.4,211.6 L418.8,211.6 L419.2,212.0 L419.6,211.6 L420.0,212.2 L420.4,212.9 L420.8,212.4 L421.2,212.2 L421.6,212.4 L422.0,213.0 L422.4,213.2 L422.8,213.2 L423.2,213.3 L423.6,214.0 L424.0,213.4 L424.4,213.5 L424.8,213.5 L425.2,212.4 L425.6,213.6 L426.0,213.3 L426.4,214.2 L426.8,213.6 L427.2,214.1 L427.6,213.7 L428.0,213.4 L428.4,213.8 L428.8,213.8 L429.2,213.5 L429.6,214.1 L430.0,214.2 L430.4,214.6 L430.8,213.7 L431.2,214.4 L431.6,214.5 L432.0,214.3 L432.4,214.1 L432.8,214.6 L433.2,214.1 L433.6,214.7 L434.0,214.9 L434.4,215.0 L434.8,215.4 L435.2,214.8 L435.6,215.0 L436.0,214.3 L436.4,214.2 L436.8,213.8 L437.2,213.6 L437.6,213.3 L438.0,213.4 L438.4,212.9 L438.8,212.8 L439.2,212.1 L439.6,212.5 L440.0,212.8 L440.4,212.6 L440.8,213.1 L441.2,213.3 L441.6,213.5 L442.0,214.1 L442.4,214.5 L442.8,215.5 L443.2,215.6 L443.6,214.9 L444.0,215.2 L444.4,215.2 L444.8,214.7 L445.2,214.5 L445.6,215.0 L446.0,215.1 L446.4,214.3 L446.8,214.4 L447.2,214.2 L447.6,214.0 L448.0,213.6 L448.4,213.4 L448.8,213.7 L449.2,213.6 L449.6,213.6 L450.0,213.7 L450.4,213.6 L450.8,214.3 L451.2,213.8 L451.6,213.6 L452.0,213.8 L452.4,213.9 L452.8,214.9 L453.2,214.5 L453.6,214.4 L454.0,213.7 L454.4,214.3 L454.8,213.9 L455.2,214.3 L455.6,213.4 L456.0,212.8 L456.4,213.1 L456.8,213.3 L457.2,212.7 L457.6,212.0 L458.0,212.6 L458.4,212.5 L458.8,212.6 L459.2,213.0 L459.6,212.9 L460.0,214.5 L460.4,214.3 L460.8,214.6 L461.2,215.0 L461.6,215.8 L462.0,215.5 L462.4,215.2 L462.8,215.3 L463.2,215.4 L463.6,215.8 L464.0,215.8 L464.4,214.8 L464.8,215.8 L465.2,214.8 L465.6,215.0 L466.0,215.4 L466.4,215.3 L466.8,215.0 L467.2,214.7 L467.6,214.9 L468.0,214.9 L468.4,214.6 L468.8,214.7 L469.2,215.0 L469.6,215.3 L470.0,215.0 L470.4,214.0 L470.8,214.7 L471.2,214.7 L471.6,213.8 L472.0,214.4 L472.4,214.7 L472.8,213.9 L473.2,213.7 L473.6,214.4 L474.0,214.2 L474.4,214.4 L474.8,213.9 L475.2,214.0 L475.6,213.9 L476.0,213.6 L476.4,213.0 L476.8,213.8 L477.2,213.9 L477.6,212.8 L478.0,213.3 L478.4,213.3 L478.8,213.9 L479.2,213.1 L479.6,212.9 L480.0,213.9 L480.4,213.4 L480.8,213.5 L481.2,214.8 L481.6,214.9 L482.0,214.2 L482.4,214.8 L482.8,214.6 L483.2,214.4 L483.6,215.4 L484.0,214.2 L484.4,214.7 L484.8,214.0 L485.2,214.2 L485.6,214.0 L486.0,213.5 L486.4,213.3 L486.8,213.2 L487.2,213.6 L487.6,213.3 L488.0,213.4 L488.4,213.2 L488.8,213.4 L489.2,214.2 L489.6,214.0 L490.0,213.8 L490.4,214.5 L490.8,213.9 L491.2,213.9 L491.6,213.4 L492.0,213.0 L492.4,211.4 L492.8,211.1 L493.2,210.2 L493.6,210.3 L494.0,209.1 L494.4,209.4 L494.8,208.1 L495.2,206.7 L495.6,206.1 L496.0,205.8 L496.4,204.7 L496.8,204.9 L497.2,203.9 L497.6,203.2 L498.0,203.7 L498.4,203.2 L498.8,203.3 L499.2,203.6 L499.6,202.5 L500.0,202.6 L500.4,202.2 L500.8,202.1 L501.2,202.2 L501.6,202.3 L502.0,201.7 L502.4,202.0 L502.8,201.4 L503.2,201.5 L503.6,202.4 L504.0,201.6 L504.4,201.8 L504.8,201.3 L505.2,202.4 L505.6,201.8 L506.0,202.4 L506.4,202.0 L506.8,201.9 L507.2,202.2 L507.6,202.7 L508.0,203.3 L508.4,204.0 L508.8,204.5 L509.2,204.2 L509.6,205.2 L510.0,205.6 L510.4,206.3 L510.8,205.4 L511.2,205.9 L511.6,205.9 L512.0,205.1 L512.4,204.5 L512.8,204.6 L513.2,204.1 L513.6,203.9 L514.0,204.2 L514.4,204.1 L514.8,204.0 L515.2,203.9 L515.6,202.7 L516.0,203.3 L516.4,202.9 L516.8,202.5 L517.2,202.7 L517.6,202.9 L518.0,202.3 L518.4,201.3 L518.8,201.9 L519.2,201.5 L519.6,201.3 L520.0,202.2 L520.4,201.2 L520.8,200.4 L521.2,199.4 L521.6,198.7 L522.0,199.4 L522.4,198.9 L522.8,198.7 L523.2,198.2 L523.6,198.6 L524.0,198.3 L524.4,198.5 L524.8,198.6 L525.2,198.2 L525.6,198.2 L526.0,199.1 L526.4,200.7 L526.8,201.8 L527.2,202.6 L527.6,202.6 L528.0,203.7 L528.4,203.9 L528.8,204.0 L529.2,205.1 L529.6,205.3 L530.0,206.0 L530.4,206.2 L530.8,206.5 L531.2,208.0 L531.6,208.2" fill="none" stroke="#ff3333" stroke-width="2" stroke-linejoin="round"/>
<rect x="311.8" y="23.5" width="220.20" height="231.50" fill="none" stroke="#000" stroke-width="1.3"/>
<rect x="372" y="22.6" width="21.7" height="231.7" fill="#fff862" fill-opacity="0.3"/>
<rect x="395.2" y="22.6" width="22.2" height="231.7" fill="#b2ffd4" fill-opacity="0.3"/>
<g stroke="#000" stroke-width="1.4"><line x1="333.82" y1="255.0" x2="333.82" y2="252.8"/><line x1="355.84" y1="255.0" x2="355.84" y2="251.0"/><line x1="377.86" y1="255.0" x2="377.86" y2="252.8"/><line x1="399.88" y1="255.0" x2="399.88" y2="251.0"/><line x1="421.90" y1="255.0" x2="421.90" y2="252.8"/><line x1="443.92" y1="255.0" x2="443.92" y2="251.0"/><line x1="465.94" y1="255.0" x2="465.94" y2="252.8"/><line x1="487.96" y1="255.0" x2="487.96" y2="251.0"/><line x1="509.98" y1="255.0" x2="509.98" y2="252.8"/></g>
<g class="tk">
<text transform="translate(311.80,267.90) scale(1,1.065)" font-size="9.7" text-anchor="middle">500</text><text transform="translate(355.84,267.90) scale(1,1.065)" font-size="9.7" text-anchor="middle">1000</text><text transform="translate(399.88,267.90) scale(1,1.065)" font-size="9.7" text-anchor="middle">1500</text><text transform="translate(443.92,267.90) scale(1,1.065)" font-size="9.7" text-anchor="middle">2000</text><text transform="translate(487.96,267.90) scale(1,1.065)" font-size="9.7" text-anchor="middle">2500</text><text transform="translate(532.00,267.90) scale(1,1.065)" font-size="9.7" text-anchor="middle">3000</text>
</g>
<line x1="449.1" y1="35.6" x2="478.7" y2="35.6" stroke="#5e5e5e" stroke-width="1.7"/>
<line x1="449.1" y1="50.6" x2="478.7" y2="50.6" stroke="#ff3333" stroke-width="1.7"/>
<text transform="translate(481.00,39.90) scale(1,1.065)" font-size="12.2" text-anchor="start">Cu/RGO</text>
<text transform="translate(481.00,54.40) scale(1,1.065)" font-size="12.2" text-anchor="start">Cu/GO</text>
<text transform="translate(298.00,131.90) scale(1,1.065) rotate(-90)" font-size="11.5" text-anchor="middle">Intensity(a.u.)</text>
<text transform="translate(367.20,289.80) scale(1,1.065)" font-size="12.4" text-anchor="start">Raman Shift(cm<tspan font-size="7.6" dy="-4.6">-1</tspan><tspan dy="4.6">)</tspan></text>
</svg>
</body></html>
